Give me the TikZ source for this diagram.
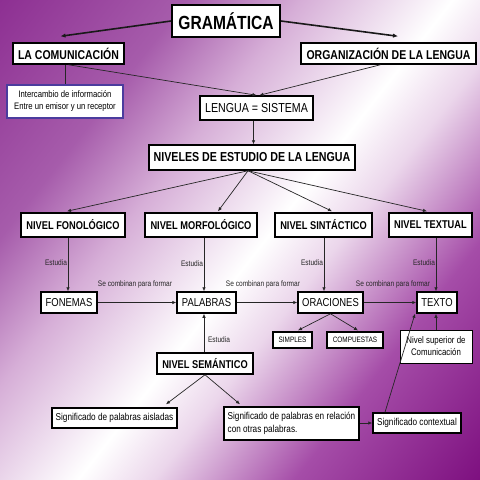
\documentclass[tikz,border=0pt]{standalone}
\usepackage{fontspec}
\setmainfont{Liberation Sans}[FakeStretch=0.82]
\usetikzlibrary{arrows.meta}
\definecolor{pA}{HTML}{8B2B90}
\definecolor{pB}{HTML}{A65CAB}
\definecolor{pC}{HTML}{D6AED7}
\definecolor{pD}{HTML}{EBD6EB}
\definecolor{pE}{HTML}{A54DA8}
\definecolor{pF}{HTML}{7A0A7C}
\definecolor{intblue}{HTML}{4B3C9E}
\pgfdeclarehorizontalshading{bgshade}{100bp}{color(0bp)=(pA); color(25bp)=(pA); color(36.4bp)=(pB); color(42.9bp)=(pC); color(51.4bp)=(white); color(55.7bp)=(pD); color(63.6bp)=(pE); color(75bp)=(pF); color(100bp)=(pF)}
\begin{document}
\begin{tikzpicture}[x=1pt,y=-1pt,
  box/.style={draw=black, line width=1.5pt, fill=white, inner sep=0pt, align=center},
  bigb/.style={box, font=\fontsize{12.8}{14}\selectfont\bfseries},
  lev/.style={box, minimum height=24pt, font=\fontsize{11.3}{13}\selectfont\bfseries},
  word/.style={box, minimum height=21pt, font=\fontsize{11.5}{13}\selectfont},
  small/.style={box, line width=1.2pt, minimum height=16pt, font=\fontsize{7.8}{9}\selectfont},
  txt/.style={box, font=\fontsize{10}{13}\selectfont},
  lbl/.style={inner sep=0pt, text=black!85, font=\fontsize{8}{9}\selectfont},
  conn/.style={draw=black!85, line width=0.7pt, -{Latex[length=4pt,width=3.5pt]}},
  plain/.style={draw=black!85, line width=0.7pt},
  thickarr/.style={draw=black!90, line width=1.6pt, -{Latex[length=5pt,width=4.5pt]}}]
\useasboundingbox (0,0) rectangle (480,480);
\begin{scope}
\clip (0,0) rectangle (480,480);
\shade[shading=bgshade, transform canvas={rotate around={-38:(240,240)}}] (-110,-160) rectangle (590,640);
\end{scope}

% nodes
\node[box, line width=2pt, minimum width=108pt, minimum height=32pt, font=\fontsize{19}{22}\selectfont\bfseries] (gram) at (226,21) {GRAMÁTICA};
\node[bigb, minimum width=111pt, minimum height=21pt] (com) at (68.5,53.5) {LA COMUNICACIÓN};
\node[bigb, minimum width=175pt, minimum height=21pt] (org) at (388.5,53.5) {ORGANIZACIÓN DE LA LENGUA};
\node[box, draw=intblue, line width=1.4pt, minimum width=116pt, minimum height=33pt, font=\fontsize{9.4}{12}\selectfont] (int) at (65,101.5) {Intercambio de información\\Entre un emisor y un receptor};
\node[box, minimum width=113pt, minimum height=24pt, font=\fontsize{13}{15}\selectfont] (len) at (256.5,108) {LENGUA = SISTEMA};
\node[bigb, minimum width=206pt, minimum height=25pt, font=\fontsize{13}{15}\selectfont\bfseries] (niv) at (252,157.5) {NIVELES DE ESTUDIO DE LA LENGUA};

\node[lev, minimum width=104pt] (fon) at (73,225) {NIVEL FONOLÓGICO};
\node[lev, minimum width=112pt] (mor) at (201,225) {NIVEL MORFOLÓGICO};
\node[lev, minimum width=97pt] (sin) at (323.5,225) {NIVEL SINTÁCTICO};
\node[lev, minimum width=83pt] (tex) at (430.5,225) {NIVEL TEXTUAL};

\node[word, minimum width=56pt] (fonemas) at (69,302.5) {FONEMAS};
\node[word, minimum width=59pt] (pal) at (206.5,302.5) {PALABRAS};
\node[word, minimum width=65pt] (ora) at (330.5,302.5) {ORACIONES};
\node[word, minimum width=40pt] (texto) at (437,302.5) {TEXTO};

\node[small, minimum width=39pt] (simp) at (292.5,340) {SIMPLES};
\node[small, minimum width=56pt] (comp) at (355,340) {COMPUESTAS};
\node[box, line width=1pt, minimum width=72pt, minimum height=33pt, font=\fontsize{9.6}{12}\selectfont] (nsup) at (436,346.5) {Nivel superior de\\Comunicación};

\node[lev, minimum width=96pt, minimum height=21pt] (nsem) at (205,363.5) {NIVEL SEMÁNTICO};
\node[txt, minimum width=125pt, minimum height=20pt] (sig1) at (114.5,418) {Significado de palabras aisladas};
\node[txt, align=left, minimum width=135pt, minimum height=33pt] (sig2) at (291.5,423.5) {Significado de palabras en relación\\con otras palabras.};
\node[txt, minimum width=88pt, minimum height=20pt] (sig3) at (417,423) {Significado contextual};

% labels
\node[lbl] (e1) at (56,263) {Estudia};
\node[lbl] (e2) at (192,264) {Estudia};
\node[lbl] (e3) at (312,263) {Estudia};
\node[lbl] (e4) at (424,263) {Estudia};
\node[lbl] (e5) at (219,340) {Estudia};
\node[lbl] (s1) at (135,284) {Se combinan para formar};
\node[lbl] (s2) at (263,284) {Se combinan para formar};
\node[lbl] (s3) at (393,284) {Se combinan para formar};

% connectors
\draw[thickarr] (gram.west) -- ([xshift=-8pt,yshift=6pt]com.north);
\draw[thickarr] (gram.east) -- ([xshift=9.5pt,yshift=6pt]org.north);
\draw[conn] (com.south) -- (len.north);
\draw[conn] ([xshift=-8pt]org.south) -- ([xshift=3pt]len.north);
\draw[plain] (int.north |- com.south) -- (int.north);
\draw[conn] ([xshift=-3pt]len.south) -- ([xshift=-3pt]len.south |- niv.north);

\draw[conn] ([xshift=-4pt]niv.south) -- ([xshift=-6pt,yshift=1pt]fon.north);
\draw[conn] ([xshift=-4pt]niv.south) -- ([xshift=17pt,yshift=1pt]mor.north);
\draw[conn] ([xshift=-4pt]niv.south) -- ([xshift=8.5pt,yshift=1pt]sin.north);
\draw[conn] ([xshift=-4pt]niv.south) -- ([xshift=-3.5pt,yshift=1pt]tex.north);

\draw[conn] ([xshift=-1pt]fonemas.north |- fon.south) -- ([xshift=-1pt]fonemas.north);
\draw[conn] ([xshift=-2.5pt]pal.north |- mor.south) -- ([xshift=-2.5pt]pal.north);
\draw[conn] ([xshift=-6.5pt]ora.north |- sin.south) -- ([xshift=-6.5pt]ora.north);
\draw[conn] ([xshift=-1pt]texto.north |- tex.south) -- ([xshift=-1pt]texto.north);

\draw[conn] (fonemas) -- (pal);
\draw[conn] (pal) -- (ora);
\draw[conn, line width=0.9pt] (ora) -- (texto);

\draw[conn] (ora.south) -- ([xshift=5.5pt,yshift=1pt]simp.north);
\draw[conn] (ora.south) -- ([xshift=3pt,yshift=1pt]comp.north);
\draw[conn] (nsup.north) -- (nsup.north |- texto.south);
\draw[conn] ([xshift=-32pt]sig3.north) -- ([xshift=-22pt]texto.south);

\draw[conn] ([xshift=-1pt]nsem.north) -- ([xshift=-1pt]nsem.north |- pal.south);
\draw[conn] (nsem.south) -- ([xshift=51.5pt,yshift=3pt]sig1.north);
\draw[conn] (nsem.south) -- ([xshift=-51.5pt,yshift=2pt]sig2.north);
\draw[conn] (sig2.east |- sig3.west) -- (sig3.west);
\end{tikzpicture}
\end{document}
